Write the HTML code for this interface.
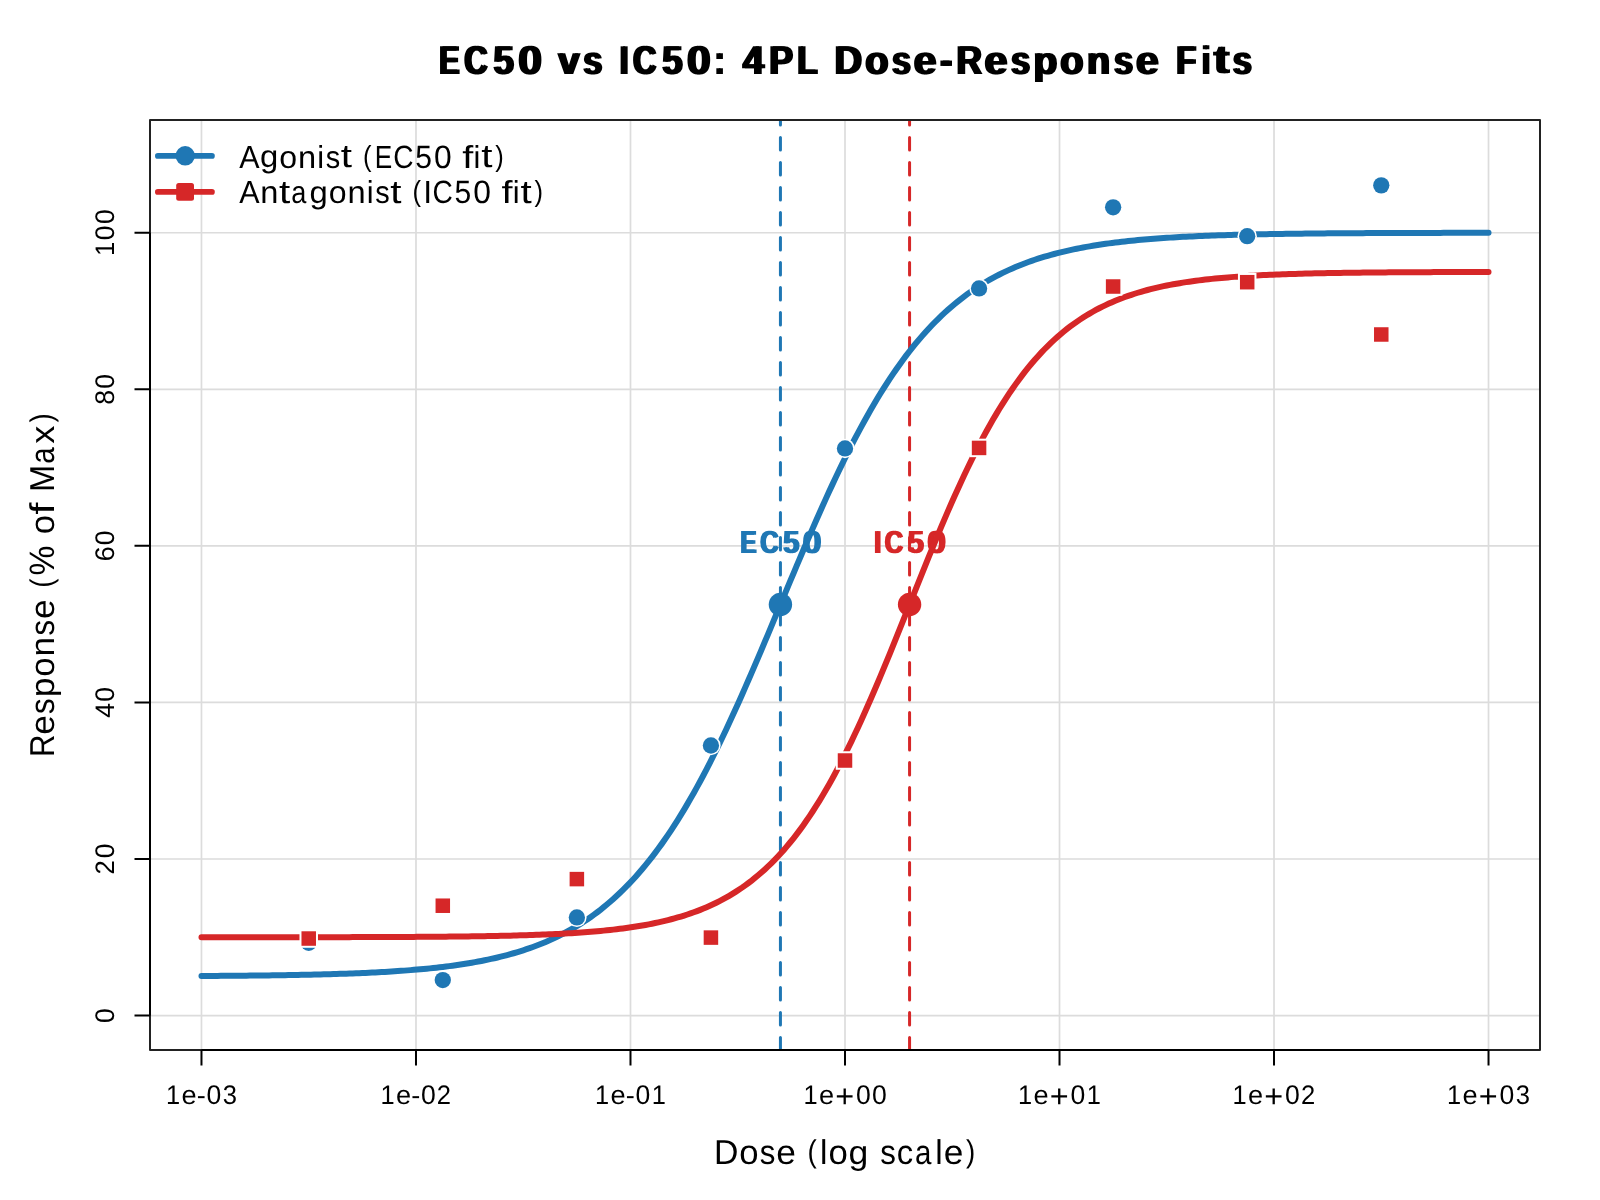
<!DOCTYPE html><html><head><meta charset="utf-8"><title>EC50 vs IC50</title><style>html,body{margin:0;padding:0;background:#fff;}svg{display:block;will-change:transform;}</style></head><body>
<svg width="1600" height="1200" viewBox="0 0 1600 1200">
<rect width="1600" height="1200" fill="#fff"/>
<defs><clipPath id="pc"><rect x="150.0" y="120.0" width="1390.0" height="930.0"/></clipPath></defs>
<path d="M201.48,120.0 L201.48,1050.0 M415.99,120.0 L415.99,1050.0 M630.49,120.0 L630.49,1050.0 M845.00,120.0 L845.00,1050.0 M1059.51,120.0 L1059.51,1050.0 M1274.01,120.0 L1274.01,1050.0 M1488.52,120.0 L1488.52,1050.0 M150.0,1015.56 L1540.0,1015.56 M150.0,858.99 L1540.0,858.99 M150.0,702.42 L1540.0,702.42 M150.0,545.86 L1540.0,545.86 M150.0,389.29 L1540.0,389.29 M150.0,232.73 L1540.0,232.73" stroke="#dcdcdc" stroke-width="1.7" fill="none"/>
<g clip-path="url(#pc)">
<path d="M780.43,1050.0 L780.43,100.0" stroke="#1f77b4" stroke-width="3.0" stroke-dasharray="12.5 12.5" stroke-linecap="round" fill="none"/>
<path d="M909.57,1050.0 L909.57,100.0" stroke="#d62728" stroke-width="3.0" stroke-dasharray="12.5 12.5" stroke-linecap="round" fill="none"/>
</g>
<g transform="translate(0,552.80)" font-family='"Liberation Sans", sans-serif' font-weight="bold" font-size="200" text-rendering="geometricPrecision" fill="#1f77b4"><text transform="translate(747.80,-0.00) scale(0.12033,0.15894)" x="-69.48">E</text><text transform="translate(749.84,-0.00) scale(0.12033,0.15894)" x="-69.48">E</text><text transform="translate(768.57,0.11) scale(0.12667,0.16024)" x="-73.58">C</text><text transform="translate(770.61,0.11) scale(0.12667,0.16024)" x="-73.58">C</text><text transform="translate(790.33,0.11) scale(0.14496,0.15976)" x="-55.91">5</text><text transform="translate(792.37,0.11) scale(0.14496,0.15976)" x="-55.91">5</text><text transform="translate(811.10,0.11) scale(0.16782,0.16024)" x="-55.47">0</text><text transform="translate(813.14,0.11) scale(0.16782,0.16024)" x="-55.47">0</text></g>
<g transform="translate(0,552.70)" font-family='"Liberation Sans", sans-serif' font-weight="bold" font-size="200" text-rendering="geometricPrecision" fill="#d62728"><text transform="translate(876.66,-0.00) scale(0.12495,0.15894)" x="-27.78">I</text><text transform="translate(878.70,-0.00) scale(0.12495,0.15894)" x="-27.78">I</text><text transform="translate(893.05,0.11) scale(0.12667,0.16024)" x="-73.58">C</text><text transform="translate(895.09,0.11) scale(0.12667,0.16024)" x="-73.58">C</text><text transform="translate(914.81,0.11) scale(0.14496,0.15976)" x="-55.91">5</text><text transform="translate(916.85,0.11) scale(0.14496,0.15976)" x="-55.91">5</text><text transform="translate(935.58,0.11) scale(0.16782,0.16024)" x="-55.47">0</text><text transform="translate(937.62,0.11) scale(0.16782,0.16024)" x="-55.47">0</text></g>
<path d="M201.48,975.99 L204.70,975.97 L207.92,975.95 L211.13,975.93 L214.35,975.91 L217.57,975.89 L220.79,975.86 L224.00,975.84 L227.22,975.82 L230.44,975.79 L233.66,975.77 L236.88,975.74 L240.09,975.71 L243.31,975.68 L246.53,975.65 L249.75,975.62 L252.96,975.58 L256.18,975.55 L259.40,975.51 L262.62,975.47 L265.83,975.43 L269.05,975.39 L272.27,975.35 L275.49,975.30 L278.70,975.26 L281.92,975.21 L285.14,975.16 L288.36,975.10 L291.57,975.05 L294.79,974.99 L298.01,974.93 L301.23,974.87 L304.44,974.80 L307.66,974.73 L310.88,974.66 L314.10,974.59 L317.31,974.51 L320.53,974.43 L323.75,974.35 L326.97,974.26 L330.19,974.17 L333.40,974.07 L336.62,973.98 L339.84,973.87 L343.06,973.77 L346.27,973.65 L349.49,973.54 L352.71,973.42 L355.93,973.29 L359.14,973.16 L362.36,973.02 L365.58,972.88 L368.80,972.73 L372.01,972.57 L375.23,972.41 L378.45,972.24 L381.67,972.07 L384.88,971.89 L388.10,971.70 L391.32,971.50 L394.54,971.29 L397.75,971.07 L400.97,970.85 L404.19,970.62 L407.41,970.37 L410.63,970.12 L413.84,969.86 L417.06,969.58 L420.28,969.29 L423.50,969.00 L426.71,968.69 L429.93,968.36 L433.15,968.03 L436.37,967.67 L439.58,967.31 L442.80,966.93 L446.02,966.53 L449.24,966.12 L452.45,965.69 L455.67,965.24 L458.89,964.78 L462.11,964.29 L465.32,963.79 L468.54,963.27 L471.76,962.72 L474.98,962.15 L478.19,961.56 L481.41,960.94 L484.63,960.30 L487.85,959.64 L491.06,958.94 L494.28,958.22 L497.50,957.47 L500.72,956.69 L503.94,955.88 L507.15,955.04 L510.37,954.16 L513.59,953.25 L516.81,952.30 L520.02,951.31 L523.24,950.29 L526.46,949.22 L529.68,948.11 L532.89,946.96 L536.11,945.77 L539.33,944.53 L542.55,943.24 L545.76,941.90 L548.98,940.51 L552.20,939.07 L555.42,937.57 L558.63,936.02 L561.85,934.40 L565.07,932.73 L568.29,930.99 L571.50,929.19 L574.72,927.33 L577.94,925.39 L581.16,923.39 L584.38,921.31 L587.59,919.16 L590.81,916.93 L594.03,914.62 L597.25,912.23 L600.46,909.76 L603.68,907.20 L606.90,904.55 L610.12,901.82 L613.33,898.99 L616.55,896.07 L619.77,893.05 L622.99,889.93 L626.20,886.71 L629.42,883.39 L632.64,879.96 L635.86,876.43 L639.07,872.79 L642.29,869.04 L645.51,865.17 L648.73,861.20 L651.94,857.10 L655.16,852.89 L658.38,848.56 L661.60,844.12 L664.81,839.55 L668.03,834.86 L671.25,830.05 L674.47,825.11 L677.69,820.06 L680.90,814.88 L684.12,809.58 L687.34,804.15 L690.56,798.60 L693.77,792.94 L696.99,787.15 L700.21,781.24 L703.43,775.22 L706.64,769.07 L709.86,762.82 L713.08,756.46 L716.30,749.98 L719.51,743.40 L722.73,736.72 L725.95,729.94 L729.17,723.06 L732.38,716.09 L735.60,709.04 L738.82,701.90 L742.04,694.68 L745.25,687.39 L748.47,680.04 L751.69,672.62 L754.91,665.14 L758.13,657.62 L761.34,650.05 L764.56,642.44 L767.78,634.80 L771.00,627.13 L774.21,619.45 L777.43,611.75 L780.65,604.04 L783.87,596.34 L787.08,588.64 L790.30,580.96 L793.52,573.29 L796.74,565.66 L799.95,558.05 L803.17,550.49 L806.39,542.97 L809.61,535.50 L812.82,528.09 L816.04,520.74 L819.26,513.46 L822.48,506.26 L825.69,499.13 L828.91,492.09 L832.13,485.13 L835.35,478.27 L838.56,471.50 L841.78,464.83 L845.00,458.26 L848.22,451.81 L851.44,445.46 L854.65,439.22 L857.87,433.09 L861.09,427.08 L864.31,421.19 L867.52,415.42 L870.74,409.77 L873.96,404.24 L877.18,398.83 L880.39,393.55 L883.61,388.38 L886.83,383.34 L890.05,378.43 L893.26,373.63 L896.48,368.96 L899.70,364.41 L902.92,359.98 L906.13,355.66 L909.35,351.47 L912.57,347.39 L915.79,343.43 L919.00,339.58 L922.22,335.84 L925.44,332.22 L928.66,328.70 L931.88,325.29 L935.09,321.98 L938.31,318.78 L941.53,315.67 L944.75,312.67 L947.96,309.76 L951.18,306.94 L954.40,304.22 L957.62,301.59 L960.83,299.04 L964.05,296.58 L967.27,294.20 L970.49,291.90 L973.70,289.68 L976.92,287.54 L980.14,285.48 L983.36,283.48 L986.57,281.55 L989.79,279.70 L993.01,277.91 L996.23,276.18 L999.44,274.51 L1002.66,272.91 L1005.88,271.36 L1009.10,269.87 L1012.31,268.44 L1015.53,267.05 L1018.75,265.72 L1021.97,264.44 L1025.19,263.20 L1028.40,262.02 L1031.62,260.87 L1034.84,259.77 L1038.06,258.71 L1041.27,257.69 L1044.49,256.71 L1047.71,255.77 L1050.93,254.86 L1054.14,253.99 L1057.36,253.15 L1060.58,252.34 L1063.80,251.56 L1067.01,250.82 L1070.23,250.10 L1073.45,249.41 L1076.67,248.75 L1079.88,248.11 L1083.10,247.50 L1086.32,246.91 L1089.54,246.35 L1092.75,245.80 L1095.97,245.28 L1099.19,244.78 L1102.41,244.30 L1105.62,243.83 L1108.84,243.39 L1112.06,242.96 L1115.28,242.55 L1118.50,242.16 L1121.71,241.78 L1124.93,241.42 L1128.15,241.07 L1131.37,240.73 L1134.58,240.41 L1137.80,240.10 L1141.02,239.81 L1144.24,239.52 L1147.45,239.25 L1150.67,238.99 L1153.89,238.73 L1157.11,238.49 L1160.32,238.26 L1163.54,238.04 L1166.76,237.82 L1169.98,237.62 L1173.19,237.42 L1176.41,237.23 L1179.63,237.05 L1182.85,236.87 L1186.06,236.71 L1189.28,236.55 L1192.50,236.39 L1195.72,236.24 L1198.94,236.10 L1202.15,235.97 L1205.37,235.83 L1208.59,235.71 L1211.81,235.59 L1215.02,235.47 L1218.24,235.36 L1221.46,235.25 L1224.68,235.15 L1227.89,235.05 L1231.11,234.96 L1234.33,234.87 L1237.55,234.78 L1240.76,234.70 L1243.98,234.62 L1247.20,234.54 L1250.42,234.47 L1253.63,234.40 L1256.85,234.33 L1260.07,234.27 L1263.29,234.20 L1266.50,234.14 L1269.72,234.09 L1272.94,234.03 L1276.16,233.98 L1279.38,233.93 L1282.59,233.88 L1285.81,233.83 L1289.03,233.79 L1292.25,233.74 L1295.46,233.70 L1298.68,233.66 L1301.90,233.63 L1305.12,233.59 L1308.33,233.55 L1311.55,233.52 L1314.77,233.49 L1317.99,233.46 L1321.20,233.43 L1324.42,233.40 L1327.64,233.37 L1330.86,233.35 L1334.07,233.32 L1337.29,233.30 L1340.51,233.27 L1343.73,233.25 L1346.94,233.23 L1350.16,233.21 L1353.38,233.19 L1356.60,233.17 L1359.81,233.15 L1363.03,233.14 L1366.25,233.12 L1369.47,233.10 L1372.69,233.09 L1375.90,233.07 L1379.12,233.06 L1382.34,233.05 L1385.56,233.03 L1388.77,233.02 L1391.99,233.01 L1395.21,233.00 L1398.43,232.99 L1401.64,232.98 L1404.86,232.97 L1408.08,232.96 L1411.30,232.95 L1414.51,232.94 L1417.73,232.93 L1420.95,232.92 L1424.17,232.91 L1427.38,232.91 L1430.60,232.90 L1433.82,232.89 L1437.04,232.89 L1440.25,232.88 L1443.47,232.87 L1446.69,232.87 L1449.91,232.86 L1453.12,232.86 L1456.34,232.85 L1459.56,232.85 L1462.78,232.84 L1466.00,232.84 L1469.21,232.83 L1472.43,232.83 L1475.65,232.82 L1478.87,232.82 L1482.08,232.82 L1485.30,232.81 L1488.52,232.81" stroke="#1f77b4" stroke-width="6.0" fill="none" stroke-linecap="round" stroke-linejoin="round"/>
<circle cx="308.73" cy="942.83" r="9.7" fill="#fff"/><circle cx="308.73" cy="942.83" r="8.15" fill="#1f77b4"/>
<circle cx="442.80" cy="980.09" r="9.7" fill="#fff"/><circle cx="442.80" cy="980.09" r="8.15" fill="#1f77b4"/>
<circle cx="576.87" cy="917.39" r="9.7" fill="#fff"/><circle cx="576.87" cy="917.39" r="8.15" fill="#1f77b4"/>
<circle cx="710.93" cy="745.48" r="9.7" fill="#fff"/><circle cx="710.93" cy="745.48" r="8.15" fill="#1f77b4"/>
<circle cx="845.00" cy="448.47" r="9.7" fill="#fff"/><circle cx="845.00" cy="448.47" r="8.15" fill="#1f77b4"/>
<circle cx="979.07" cy="288.46" r="9.7" fill="#fff"/><circle cx="979.07" cy="288.46" r="8.15" fill="#1f77b4"/>
<circle cx="1113.13" cy="207.29" r="9.7" fill="#fff"/><circle cx="1113.13" cy="207.29" r="8.15" fill="#1f77b4"/>
<circle cx="1247.20" cy="236.17" r="9.7" fill="#fff"/><circle cx="1247.20" cy="236.17" r="8.15" fill="#1f77b4"/>
<circle cx="1381.27" cy="185.37" r="9.7" fill="#fff"/><circle cx="1381.27" cy="185.37" r="8.15" fill="#1f77b4"/>
<path d="M201.48,937.26 L204.70,937.26 L207.92,937.26 L211.13,937.25 L214.35,937.25 L217.57,937.25 L220.79,937.25 L224.00,937.25 L227.22,937.25 L230.44,937.25 L233.66,937.25 L236.88,937.25 L240.09,937.24 L243.31,937.24 L246.53,937.24 L249.75,937.24 L252.96,937.24 L256.18,937.24 L259.40,937.23 L262.62,937.23 L265.83,937.23 L269.05,937.23 L272.27,937.23 L275.49,937.22 L278.70,937.22 L281.92,937.22 L285.14,937.22 L288.36,937.21 L291.57,937.21 L294.79,937.21 L298.01,937.20 L301.23,937.20 L304.44,937.20 L307.66,937.19 L310.88,937.19 L314.10,937.19 L317.31,937.18 L320.53,937.18 L323.75,937.17 L326.97,937.17 L330.19,937.16 L333.40,937.16 L336.62,937.15 L339.84,937.15 L343.06,937.14 L346.27,937.13 L349.49,937.13 L352.71,937.12 L355.93,937.11 L359.14,937.10 L362.36,937.09 L365.58,937.09 L368.80,937.08 L372.01,937.07 L375.23,937.06 L378.45,937.05 L381.67,937.03 L384.88,937.02 L388.10,937.01 L391.32,937.00 L394.54,936.98 L397.75,936.97 L400.97,936.95 L404.19,936.94 L407.41,936.92 L410.63,936.90 L413.84,936.89 L417.06,936.87 L420.28,936.85 L423.50,936.83 L426.71,936.80 L429.93,936.78 L433.15,936.76 L436.37,936.73 L439.58,936.70 L442.80,936.68 L446.02,936.65 L449.24,936.61 L452.45,936.58 L455.67,936.55 L458.89,936.51 L462.11,936.47 L465.32,936.44 L468.54,936.39 L471.76,936.35 L474.98,936.30 L478.19,936.26 L481.41,936.21 L484.63,936.15 L487.85,936.10 L491.06,936.04 L494.28,935.98 L497.50,935.92 L500.72,935.85 L503.94,935.78 L507.15,935.70 L510.37,935.63 L513.59,935.54 L516.81,935.46 L520.02,935.37 L523.24,935.28 L526.46,935.18 L529.68,935.07 L532.89,934.97 L536.11,934.85 L539.33,934.73 L542.55,934.61 L545.76,934.47 L548.98,934.34 L552.20,934.19 L555.42,934.04 L558.63,933.88 L561.85,933.71 L565.07,933.54 L568.29,933.35 L571.50,933.16 L574.72,932.96 L577.94,932.75 L581.16,932.52 L584.38,932.29 L587.59,932.05 L590.81,931.79 L594.03,931.52 L597.25,931.24 L600.46,930.94 L603.68,930.63 L606.90,930.31 L610.12,929.96 L613.33,929.61 L616.55,929.23 L619.77,928.84 L622.99,928.43 L626.20,927.99 L629.42,927.54 L632.64,927.06 L635.86,926.57 L639.07,926.05 L642.29,925.50 L645.51,924.93 L648.73,924.33 L651.94,923.70 L655.16,923.04 L658.38,922.35 L661.60,921.63 L664.81,920.87 L668.03,920.08 L671.25,919.25 L674.47,918.39 L677.69,917.48 L680.90,916.53 L684.12,915.53 L687.34,914.49 L690.56,913.41 L693.77,912.27 L696.99,911.08 L700.21,909.83 L703.43,908.53 L706.64,907.17 L709.86,905.75 L713.08,904.27 L716.30,902.72 L719.51,901.10 L722.73,899.41 L725.95,897.65 L729.17,895.81 L732.38,893.89 L735.60,891.88 L738.82,889.79 L742.04,887.62 L745.25,885.35 L748.47,882.99 L751.69,880.53 L754.91,877.97 L758.13,875.30 L761.34,872.53 L764.56,869.65 L767.78,866.65 L771.00,863.54 L774.21,860.31 L777.43,856.96 L780.65,853.48 L783.87,849.88 L787.08,846.14 L790.30,842.27 L793.52,838.26 L796.74,834.12 L799.95,829.83 L803.17,825.41 L806.39,820.83 L809.61,816.11 L812.82,811.25 L816.04,806.23 L819.26,801.07 L822.48,795.76 L825.69,790.30 L828.91,784.68 L832.13,778.92 L835.35,773.02 L838.56,766.96 L841.78,760.76 L845.00,754.42 L848.22,747.94 L851.44,741.32 L854.65,734.57 L857.87,727.69 L861.09,720.69 L864.31,713.56 L867.52,706.33 L870.74,698.98 L873.96,691.54 L877.18,684.00 L880.39,676.37 L883.61,668.66 L886.83,660.88 L890.05,653.04 L893.26,645.14 L896.48,637.19 L899.70,629.21 L902.92,621.20 L906.13,613.16 L909.35,605.12 L912.57,597.08 L915.79,589.05 L919.00,581.03 L922.22,573.04 L925.44,565.09 L928.66,557.18 L931.88,549.33 L935.09,541.54 L938.31,533.83 L941.53,526.19 L944.75,518.63 L947.96,511.17 L951.18,503.82 L954.40,496.56 L957.62,489.43 L960.83,482.41 L964.05,475.51 L967.27,468.74 L970.49,462.10 L973.70,455.60 L976.92,449.24 L980.14,443.02 L983.36,436.95 L986.57,431.02 L989.79,425.24 L993.01,419.61 L996.23,414.12 L999.44,408.79 L1002.66,403.61 L1005.88,398.57 L1009.10,393.69 L1012.31,388.95 L1015.53,384.36 L1018.75,379.91 L1021.97,375.60 L1025.19,371.44 L1028.40,367.41 L1031.62,363.53 L1034.84,359.77 L1038.06,356.15 L1041.27,352.65 L1044.49,349.28 L1047.71,346.03 L1050.93,342.91 L1054.14,339.90 L1057.36,337.00 L1060.58,334.21 L1063.80,331.53 L1067.01,328.96 L1070.23,326.49 L1073.45,324.11 L1076.67,321.83 L1079.88,319.64 L1083.10,317.54 L1086.32,315.53 L1089.54,313.59 L1092.75,311.74 L1095.97,309.97 L1099.19,308.27 L1102.41,306.64 L1105.62,305.08 L1108.84,303.59 L1112.06,302.16 L1115.28,300.79 L1118.50,299.48 L1121.71,298.23 L1124.93,297.03 L1128.15,295.89 L1131.37,294.79 L1134.58,293.75 L1137.80,292.75 L1141.02,291.79 L1144.24,290.88 L1147.45,290.00 L1150.67,289.17 L1153.89,288.37 L1157.11,287.61 L1160.32,286.89 L1163.54,286.19 L1166.76,285.53 L1169.98,284.90 L1173.19,284.29 L1176.41,283.72 L1179.63,283.17 L1182.85,282.64 L1186.06,282.14 L1189.28,281.67 L1192.50,281.21 L1195.72,280.77 L1198.94,280.36 L1202.15,279.96 L1205.37,279.59 L1208.59,279.23 L1211.81,278.88 L1215.02,278.55 L1218.24,278.24 L1221.46,277.94 L1224.68,277.66 L1227.89,277.39 L1231.11,277.13 L1234.33,276.88 L1237.55,276.65 L1240.76,276.42 L1243.98,276.21 L1247.20,276.01 L1250.42,275.81 L1253.63,275.63 L1256.85,275.45 L1260.07,275.28 L1263.29,275.12 L1266.50,274.97 L1269.72,274.82 L1272.94,274.69 L1276.16,274.55 L1279.38,274.43 L1282.59,274.31 L1285.81,274.19 L1289.03,274.08 L1292.25,273.98 L1295.46,273.88 L1298.68,273.78 L1301.90,273.69 L1305.12,273.61 L1308.33,273.53 L1311.55,273.45 L1314.77,273.37 L1317.99,273.30 L1321.20,273.24 L1324.42,273.17 L1327.64,273.11 L1330.86,273.05 L1334.07,273.00 L1337.29,272.94 L1340.51,272.89 L1343.73,272.84 L1346.94,272.80 L1350.16,272.75 L1353.38,272.71 L1356.60,272.67 L1359.81,272.63 L1363.03,272.60 L1366.25,272.56 L1369.47,272.53 L1372.69,272.50 L1375.90,272.47 L1379.12,272.44 L1382.34,272.41 L1385.56,272.39 L1388.77,272.36 L1391.99,272.34 L1395.21,272.32 L1398.43,272.30 L1401.64,272.28 L1404.86,272.26 L1408.08,272.24 L1411.30,272.22 L1414.51,272.21 L1417.73,272.19 L1420.95,272.17 L1424.17,272.16 L1427.38,272.15 L1430.60,272.13 L1433.82,272.12 L1437.04,272.11 L1440.25,272.10 L1443.47,272.09 L1446.69,272.08 L1449.91,272.07 L1453.12,272.06 L1456.34,272.05 L1459.56,272.04 L1462.78,272.03 L1466.00,272.02 L1469.21,272.02 L1472.43,272.01 L1475.65,272.00 L1478.87,272.00 L1482.08,271.99 L1485.30,271.98 L1488.52,271.98" stroke="#d62728" stroke-width="6.0" fill="none" stroke-linecap="round" stroke-linejoin="round"/>
<rect x="299.48" y="929.28" width="18.5" height="18.5" fill="#fff"/><rect x="301.48" y="931.28" width="14.5" height="14.5" fill="#d62728"/>
<rect x="433.55" y="896.47" width="18.5" height="18.5" fill="#fff"/><rect x="435.55" y="898.47" width="14.5" height="14.5" fill="#d62728"/>
<rect x="567.62" y="869.86" width="18.5" height="18.5" fill="#fff"/><rect x="569.62" y="871.86" width="14.5" height="14.5" fill="#d62728"/>
<rect x="701.68" y="928.34" width="18.5" height="18.5" fill="#fff"/><rect x="703.68" y="930.34" width="14.5" height="14.5" fill="#d62728"/>
<rect x="835.75" y="751.26" width="18.5" height="18.5" fill="#fff"/><rect x="837.75" y="753.26" width="14.5" height="14.5" fill="#d62728"/>
<rect x="969.82" y="438.68" width="18.5" height="18.5" fill="#fff"/><rect x="971.82" y="440.68" width="14.5" height="14.5" fill="#d62728"/>
<rect x="1103.88" y="277.26" width="18.5" height="18.5" fill="#fff"/><rect x="1105.88" y="279.26" width="14.5" height="14.5" fill="#d62728"/>
<rect x="1237.95" y="272.95" width="18.5" height="18.5" fill="#fff"/><rect x="1239.95" y="274.95" width="14.5" height="14.5" fill="#d62728"/>
<rect x="1372.02" y="325.24" width="18.5" height="18.5" fill="#fff"/><rect x="1374.02" y="327.24" width="14.5" height="14.5" fill="#d62728"/>
<circle cx="780.43" cy="604.57" r="11.7" fill="#1f77b4"/>
<circle cx="909.57" cy="604.57" r="11.7" fill="#d62728"/>
<rect x="150.0" y="120.0" width="1390.00" height="930.00" fill="none" stroke="#222" stroke-width="2" stroke-linejoin="round"/>
<path d="M201.48,1050.0 L1488.52,1050.0 M150.0,1015.56 L150.0,232.73" stroke="#000" stroke-width="2" fill="none"/>
<path d="M201.48,1050.0 L201.48,1065.5 M415.99,1050.0 L415.99,1065.5 M630.49,1050.0 L630.49,1065.5 M845.00,1050.0 L845.00,1065.5 M1059.51,1050.0 L1059.51,1065.5 M1274.01,1050.0 L1274.01,1065.5 M1488.52,1050.0 L1488.52,1065.5 M150.0,1015.56 L134.5,1015.56 M150.0,858.99 L134.5,858.99 M150.0,702.42 L134.5,702.42 M150.0,545.86 L134.5,545.86 M150.0,389.29 L134.5,389.29 M150.0,232.73 L134.5,232.73" stroke="#000" stroke-width="2" fill="none"/>
<g transform="translate(0,1104.00)" font-family='"Liberation Sans", sans-serif' font-weight="normal" font-size="200" text-rendering="geometricPrecision" fill="#000"><text transform="translate(173.37,-0.00) scale(0.12686,0.13351)" x="-58.35">1</text><text transform="translate(188.94,0.10) scale(0.13610,0.13206)" x="-55.42">e</text><text transform="translate(201.22,-0.04) scale(0.13583,0.12915)" x="-33.30">-</text><text transform="translate(213.77,0.09) scale(0.13282,0.13460)" x="-55.62">0</text><text transform="translate(229.76,0.09) scale(0.12756,0.13460)" x="-55.03">3</text></g>
<g transform="translate(0,1104.00)" font-family='"Liberation Sans", sans-serif' font-weight="normal" font-size="200" text-rendering="geometricPrecision" fill="#000"><text transform="translate(387.88,-0.00) scale(0.12686,0.13351)" x="-58.35">1</text><text transform="translate(403.45,0.10) scale(0.13610,0.13206)" x="-55.42">e</text><text transform="translate(415.72,-0.04) scale(0.13583,0.12915)" x="-33.30">-</text><text transform="translate(428.28,0.09) scale(0.13282,0.13460)" x="-55.62">0</text><text transform="translate(443.98,-0.00) scale(0.12803,0.13393)" x="-55.62">2</text></g>
<g transform="translate(0,1104.00)" font-family='"Liberation Sans", sans-serif' font-weight="normal" font-size="200" text-rendering="geometricPrecision" fill="#000"><text transform="translate(602.38,-0.00) scale(0.12686,0.13351)" x="-58.35">1</text><text transform="translate(617.96,0.10) scale(0.13610,0.13206)" x="-55.42">e</text><text transform="translate(630.23,-0.04) scale(0.13583,0.12915)" x="-33.30">-</text><text transform="translate(642.79,0.09) scale(0.13282,0.13460)" x="-55.62">0</text><text transform="translate(659.05,-0.00) scale(0.12686,0.13351)" x="-58.35">1</text></g>
<g transform="translate(0,1104.00)" font-family='"Liberation Sans", sans-serif' font-weight="normal" font-size="200" text-rendering="geometricPrecision" fill="#000"><text transform="translate(810.88,-0.00) scale(0.12686,0.13351)" x="-58.35">1</text><text transform="translate(826.45,0.10) scale(0.13610,0.13206)" x="-55.42">e</text><text transform="translate(844.74,2.84) scale(0.16234,0.16146)" x="-58.35">+</text><text transform="translate(863.30,0.09) scale(0.13282,0.13460)" x="-55.62">0</text><text transform="translate(879.34,0.09) scale(0.13282,0.13460)" x="-55.62">0</text></g>
<g transform="translate(0,1104.00)" font-family='"Liberation Sans", sans-serif' font-weight="normal" font-size="200" text-rendering="geometricPrecision" fill="#000"><text transform="translate(1025.39,-0.00) scale(0.12686,0.13351)" x="-58.35">1</text><text transform="translate(1040.96,0.10) scale(0.13610,0.13206)" x="-55.42">e</text><text transform="translate(1059.24,2.84) scale(0.16234,0.16146)" x="-58.35">+</text><text transform="translate(1077.81,0.09) scale(0.13282,0.13460)" x="-55.62">0</text><text transform="translate(1094.07,-0.00) scale(0.12686,0.13351)" x="-58.35">1</text></g>
<g transform="translate(0,1104.00)" font-family='"Liberation Sans", sans-serif' font-weight="normal" font-size="200" text-rendering="geometricPrecision" fill="#000"><text transform="translate(1239.89,-0.00) scale(0.12686,0.13351)" x="-58.35">1</text><text transform="translate(1255.46,0.10) scale(0.13610,0.13206)" x="-55.42">e</text><text transform="translate(1273.75,2.84) scale(0.16234,0.16146)" x="-58.35">+</text><text transform="translate(1292.32,0.09) scale(0.13282,0.13460)" x="-55.62">0</text><text transform="translate(1308.02,-0.00) scale(0.12803,0.13393)" x="-55.62">2</text></g>
<g transform="translate(0,1104.00)" font-family='"Liberation Sans", sans-serif' font-weight="normal" font-size="200" text-rendering="geometricPrecision" fill="#000"><text transform="translate(1454.40,-0.00) scale(0.12686,0.13351)" x="-58.35">1</text><text transform="translate(1469.97,0.10) scale(0.13610,0.13206)" x="-55.42">e</text><text transform="translate(1488.25,2.84) scale(0.16234,0.16146)" x="-58.35">+</text><text transform="translate(1506.82,0.09) scale(0.13282,0.13460)" x="-55.62">0</text><text transform="translate(1522.81,0.09) scale(0.12756,0.13460)" x="-55.03">3</text></g>
<g transform="translate(114.00,1015.56) rotate(-90)" font-family='"Liberation Sans", sans-serif' font-weight="normal" font-size="200" text-rendering="geometricPrecision" fill="#000"><text transform="translate(-0.01,0.09) scale(0.13282,0.13460)" x="-55.62">0</text></g>
<g transform="translate(114.00,858.99) rotate(-90)" font-family='"Liberation Sans", sans-serif' font-weight="normal" font-size="200" text-rendering="geometricPrecision" fill="#000"><text transform="translate(-8.35,-0.00) scale(0.12803,0.13393)" x="-55.62">2</text><text transform="translate(8.01,0.09) scale(0.13282,0.13460)" x="-55.62">0</text></g>
<g transform="translate(114.00,702.42) rotate(-90)" font-family='"Liberation Sans", sans-serif' font-weight="normal" font-size="200" text-rendering="geometricPrecision" fill="#000"><text transform="translate(-8.11,-0.00) scale(0.13284,0.13351)" x="-54.98">4</text><text transform="translate(8.01,0.09) scale(0.13282,0.13460)" x="-55.62">0</text></g>
<g transform="translate(114.00,545.86) rotate(-90)" font-family='"Liberation Sans", sans-serif' font-weight="normal" font-size="200" text-rendering="geometricPrecision" fill="#000"><text transform="translate(-7.93,0.09) scale(0.13747,0.13460)" x="-56.30">6</text><text transform="translate(8.01,0.09) scale(0.13282,0.13460)" x="-55.62">0</text></g>
<g transform="translate(114.00,389.29) rotate(-90)" font-family='"Liberation Sans", sans-serif' font-weight="normal" font-size="200" text-rendering="geometricPrecision" fill="#000"><text transform="translate(-8.02,0.09) scale(0.13426,0.13460)" x="-55.62">8</text><text transform="translate(8.01,0.09) scale(0.13282,0.13460)" x="-55.62">0</text></g>
<g transform="translate(114.00,232.73) rotate(-90)" font-family='"Liberation Sans", sans-serif' font-weight="normal" font-size="200" text-rendering="geometricPrecision" fill="#000"><text transform="translate(-15.81,-0.00) scale(0.12686,0.13351)" x="-58.35">1</text><text transform="translate(-0.01,0.09) scale(0.13282,0.13460)" x="-55.62">0</text><text transform="translate(16.03,0.09) scale(0.13282,0.13460)" x="-55.62">0</text></g>
<g transform="translate(0,1164.10)" font-family='"Liberation Sans", sans-serif' font-weight="normal" font-size="200" text-rendering="geometricPrecision" fill="#000"><text transform="translate(726.85,-0.00) scale(0.16916,0.17325)" x="-75.63">D</text><text transform="translate(748.82,0.13) scale(0.17381,0.17137)" x="-55.62">o</text><text transform="translate(767.42,0.13) scale(0.15673,0.17183)" x="-49.17">s</text><text transform="translate(785.94,0.13) scale(0.17660,0.17137)" x="-55.42">e</text><text transform="translate(812.83,-2.16) scale(0.13821,0.15630)" x="-38.92">(</text><text transform="translate(823.67,-0.00) scale(0.16713,0.17143)" x="-22.27">l</text><text transform="translate(838.21,0.13) scale(0.17381,0.17137)" x="-55.62">o</text><text transform="translate(858.00,-0.20) scale(0.17770,0.16876)" x="-53.37">g</text><text transform="translate(887.97,0.13) scale(0.15673,0.17183)" x="-49.17">s</text><text transform="translate(905.27,0.13) scale(0.16406,0.17137)" x="-51.61">c</text><text transform="translate(923.89,0.13) scale(0.14703,0.17137)" x="-59.86">a</text><text transform="translate(938.96,-0.00) scale(0.16713,0.17143)" x="-22.27">l</text><text transform="translate(953.59,0.13) scale(0.17660,0.17137)" x="-55.42">e</text><text transform="translate(969.90,-2.16) scale(0.13821,0.15630)" x="-27.69">)</text></g>
<g transform="translate(53.80,585.00) rotate(-90)" font-family='"Liberation Sans", sans-serif' font-weight="normal" font-size="200" text-rendering="geometricPrecision" fill="#000"><text transform="translate(-160.21,-0.00) scale(0.15637,0.17325)" x="-75.78">R</text><text transform="translate(-139.89,0.13) scale(0.17660,0.17137)" x="-55.42">e</text><text transform="translate(-121.26,0.13) scale(0.15673,0.17183)" x="-49.17">s</text><text transform="translate(-101.86,-0.19) scale(0.17788,0.16854)" x="-57.86">p</text><text transform="translate(-82.06,0.13) scale(0.17381,0.17137)" x="-55.62">o</text><text transform="translate(-61.61,-0.00) scale(0.17628,0.17018)" x="-55.76">n</text><text transform="translate(-42.74,0.13) scale(0.15673,0.17183)" x="-49.17">s</text><text transform="translate(-24.21,0.13) scale(0.17660,0.17137)" x="-55.42">e</text><text transform="translate(2.68,-2.16) scale(0.13821,0.15630)" x="-38.92">(</text><text transform="translate(24.50,0.26) scale(0.16789,0.17674)" x="-88.92">%</text><text transform="translate(60.44,0.13) scale(0.17381,0.17137)" x="-55.62">o</text><text transform="translate(76.88,-0.00) scale(0.21469,0.17166)" x="-29.35">f</text><text transform="translate(106.46,-0.00) scale(0.16302,0.17325)" x="-83.30">M</text><text transform="translate(130.07,0.13) scale(0.14703,0.17137)" x="-59.86">a</text><text transform="translate(150.21,-0.00) scale(0.18137,0.16924)" x="-50.05">x</text><text transform="translate(166.23,-2.16) scale(0.13821,0.15630)" x="-27.69">)</text></g>
<g transform="translate(0,73.75)" font-family='"Liberation Sans", sans-serif' font-weight="bold" font-size="200" text-rendering="geometricPrecision" fill="#000"><text transform="translate(448.61,-0.00) scale(0.15242,0.20133)" x="-69.48">E</text><text transform="translate(451.20,-0.00) scale(0.15242,0.20133)" x="-69.48">E</text><text transform="translate(474.92,0.14) scale(0.16045,0.20297)" x="-73.58">C</text><text transform="translate(477.50,0.14) scale(0.16045,0.20297)" x="-73.58">C</text><text transform="translate(502.49,0.14) scale(0.18361,0.20237)" x="-55.91">5</text><text transform="translate(505.07,0.14) scale(0.18361,0.20237)" x="-55.91">5</text><text transform="translate(528.79,0.14) scale(0.21258,0.20297)" x="-55.47">0</text><text transform="translate(531.37,0.14) scale(0.21258,0.20297)" x="-55.47">0</text><text transform="translate(567.63,-0.00) scale(0.19216,0.19667)" x="-55.57">v</text><text transform="translate(570.22,-0.00) scale(0.19216,0.19667)" x="-55.57">v</text><text transform="translate(591.40,0.15) scale(0.16946,0.19897)" x="-55.03">s</text><text transform="translate(593.99,0.15) scale(0.16946,0.19897)" x="-55.03">s</text><text transform="translate(622.92,-0.00) scale(0.15827,0.20133)" x="-27.78">I</text><text transform="translate(625.50,-0.00) scale(0.15827,0.20133)" x="-27.78">I</text><text transform="translate(643.67,0.14) scale(0.16045,0.20297)" x="-73.58">C</text><text transform="translate(646.25,0.14) scale(0.16045,0.20297)" x="-73.58">C</text><text transform="translate(671.24,0.14) scale(0.18361,0.20237)" x="-55.91">5</text><text transform="translate(673.83,0.14) scale(0.18361,0.20237)" x="-55.91">5</text><text transform="translate(697.54,0.14) scale(0.21258,0.20297)" x="-55.47">0</text><text transform="translate(700.13,0.14) scale(0.21258,0.20297)" x="-55.47">0</text><text transform="translate(718.36,-0.00) scale(0.14628,0.20580)" x="-33.30">:</text><text transform="translate(720.95,-0.00) scale(0.14628,0.20580)" x="-33.30">:</text><text transform="translate(752.39,-0.00) scale(0.19047,0.20133)" x="-56.59">4</text><text transform="translate(754.98,-0.00) scale(0.19047,0.20133)" x="-56.59">4</text><text transform="translate(780.52,-0.00) scale(0.17865,0.20133)" x="-69.97">P</text><text transform="translate(783.10,-0.00) scale(0.17865,0.20133)" x="-69.97">P</text><text transform="translate(806.81,-0.00) scale(0.16663,0.20133)" x="-64.70">L</text><text transform="translate(809.40,-0.00) scale(0.16663,0.20133)" x="-64.70">L</text><text transform="translate(847.45,-0.00) scale(0.19147,0.20133)" x="-74.71">D</text><text transform="translate(850.03,-0.00) scale(0.19147,0.20133)" x="-74.71">D</text><text transform="translate(875.52,0.15) scale(0.19013,0.19914)" x="-61.08">o</text><text transform="translate(878.10,0.15) scale(0.19013,0.19914)" x="-61.08">o</text><text transform="translate(899.97,0.15) scale(0.16946,0.19897)" x="-55.03">s</text><text transform="translate(902.55,0.15) scale(0.16946,0.19897)" x="-55.03">s</text><text transform="translate(923.98,0.15) scale(0.20417,0.19914)" x="-56.10">e</text><text transform="translate(926.56,0.15) scale(0.20417,0.19914)" x="-56.10">e</text><text transform="translate(944.85,0.81) scale(0.17858,0.22660)" x="-33.20">-</text><text transform="translate(947.43,0.81) scale(0.17858,0.22660)" x="-33.20">-</text><text transform="translate(968.73,-0.00) scale(0.17666,0.20133)" x="-76.86">R</text><text transform="translate(971.31,-0.00) scale(0.17666,0.20133)" x="-76.86">R</text><text transform="translate(994.78,0.15) scale(0.20417,0.19914)" x="-56.10">e</text><text transform="translate(997.36,0.15) scale(0.20417,0.19914)" x="-56.10">e</text><text transform="translate(1019.16,0.15) scale(0.16946,0.19897)" x="-55.03">s</text><text transform="translate(1021.75,0.15) scale(0.16946,0.19897)" x="-55.03">s</text><text transform="translate(1044.73,-0.20) scale(0.19566,0.19534)" x="-63.57">p</text><text transform="translate(1047.31,-0.20) scale(0.19566,0.19534)" x="-63.57">p</text><text transform="translate(1070.64,0.15) scale(0.19013,0.19914)" x="-61.08">o</text><text transform="translate(1073.23,0.15) scale(0.19013,0.19914)" x="-61.08">o</text><text transform="translate(1097.33,-0.00) scale(0.18957,0.19758)" x="-61.47">n</text><text transform="translate(1099.92,-0.00) scale(0.18957,0.19758)" x="-61.47">n</text><text transform="translate(1122.14,0.15) scale(0.16946,0.19897)" x="-55.03">s</text><text transform="translate(1124.72,0.15) scale(0.16946,0.19897)" x="-55.03">s</text><text transform="translate(1146.15,0.15) scale(0.20417,0.19914)" x="-56.10">e</text><text transform="translate(1148.73,0.15) scale(0.20417,0.19914)" x="-56.10">e</text><text transform="translate(1185.49,-0.00) scale(0.16453,0.20133)" x="-64.11">F</text><text transform="translate(1188.08,-0.00) scale(0.16453,0.20133)" x="-64.11">F</text><text transform="translate(1204.84,-0.00) scale(0.14790,0.19922)" x="-27.69">i</text><text transform="translate(1207.42,-0.00) scale(0.14790,0.19922)" x="-27.69">i</text><text transform="translate(1220.25,-0.35) scale(0.23021,0.20179)" x="-33.30">t</text><text transform="translate(1222.83,-0.35) scale(0.23021,0.20179)" x="-33.30">t</text><text transform="translate(1240.91,0.15) scale(0.16946,0.19897)" x="-55.03">s</text><text transform="translate(1243.49,0.15) scale(0.16946,0.19897)" x="-55.03">s</text></g>
<path d="M157.85,155.9 L211.95,155.9" stroke="#1f77b4" stroke-width="5.7" stroke-linecap="round"/>
<circle cx="185.2" cy="155.8" r="9.7" fill="#1f77b4"/>
<path d="M157.85,191.9 L211.95,191.9" stroke="#d62728" stroke-width="5.7" stroke-linecap="round"/>
<rect x="176.2" y="183.1" width="17.8" height="17.6" rx="2.5" fill="#d62728"/>
<g transform="translate(0,167.50)" font-family='"Liberation Sans", sans-serif' font-weight="normal" font-size="200" text-rendering="geometricPrecision" fill="#000"><text transform="translate(249.39,-0.00) scale(0.15211,0.16000)" x="-66.70">A</text><text transform="translate(268.77,-0.19) scale(0.16412,0.15585)" x="-53.37">g</text><text transform="translate(288.14,0.12) scale(0.16053,0.15827)" x="-55.62">o</text><text transform="translate(307.03,-0.00) scale(0.16280,0.15717)" x="-55.76">n</text><text transform="translate(320.71,-0.00) scale(0.15436,0.15833)" x="-22.17">i</text><text transform="translate(332.85,0.12) scale(0.14474,0.15869)" x="-49.17">s</text><text transform="translate(346.60,-0.25) scale(0.20181,0.16204)" x="-28.56">t</text><text transform="translate(368.06,-2.00) scale(0.12764,0.14435)" x="-38.92">(</text><text transform="translate(383.91,-0.00) scale(0.13087,0.16000)" x="-70.61">E</text><text transform="translate(403.51,0.11) scale(0.14017,0.16131)" x="-73.49">C</text><text transform="translate(423.48,0.11) scale(0.15022,0.16083)" x="-55.42">5</text><text transform="translate(442.84,0.11) scale(0.15917,0.16131)" x="-55.62">0</text><text transform="translate(468.00,-0.00) scale(0.19827,0.15854)" x="-29.35">f</text><text transform="translate(476.89,-0.00) scale(0.15436,0.15833)" x="-22.17">i</text><text transform="translate(487.04,-0.25) scale(0.20181,0.16204)" x="-28.56">t</text><text transform="translate(498.72,-2.00) scale(0.12764,0.14435)" x="-27.69">)</text></g>
<g transform="translate(0,203.20)" font-family='"Liberation Sans", sans-serif' font-weight="normal" font-size="200" text-rendering="geometricPrecision" fill="#000"><text transform="translate(249.39,-0.00) scale(0.15211,0.16000)" x="-66.70">A</text><text transform="translate(269.38,-0.00) scale(0.16280,0.15717)" x="-55.76">n</text><text transform="translate(284.83,-0.25) scale(0.20181,0.16204)" x="-28.56">t</text><text transform="translate(299.49,0.12) scale(0.13579,0.15827)" x="-59.86">a</text><text transform="translate(318.26,-0.19) scale(0.16412,0.15585)" x="-53.37">g</text><text transform="translate(337.63,0.12) scale(0.16053,0.15827)" x="-55.62">o</text><text transform="translate(356.52,-0.00) scale(0.16280,0.15717)" x="-55.76">n</text><text transform="translate(370.20,-0.00) scale(0.15436,0.15833)" x="-22.17">i</text><text transform="translate(382.34,0.12) scale(0.14474,0.15869)" x="-49.17">s</text><text transform="translate(396.09,-0.25) scale(0.20181,0.16204)" x="-28.56">t</text><text transform="translate(417.54,-2.00) scale(0.12764,0.14435)" x="-38.92">(</text><text transform="translate(427.80,-0.00) scale(0.15970,0.16000)" x="-27.78">I</text><text transform="translate(442.83,0.11) scale(0.14017,0.16131)" x="-73.49">C</text><text transform="translate(462.79,0.11) scale(0.15022,0.16083)" x="-55.42">5</text><text transform="translate(482.15,0.11) scale(0.15917,0.16131)" x="-55.62">0</text><text transform="translate(507.32,-0.00) scale(0.19827,0.15854)" x="-29.35">f</text><text transform="translate(516.20,-0.00) scale(0.15436,0.15833)" x="-22.17">i</text><text transform="translate(526.35,-0.25) scale(0.20181,0.16204)" x="-28.56">t</text><text transform="translate(538.03,-2.00) scale(0.12764,0.14435)" x="-27.69">)</text></g>
</svg></body></html>
